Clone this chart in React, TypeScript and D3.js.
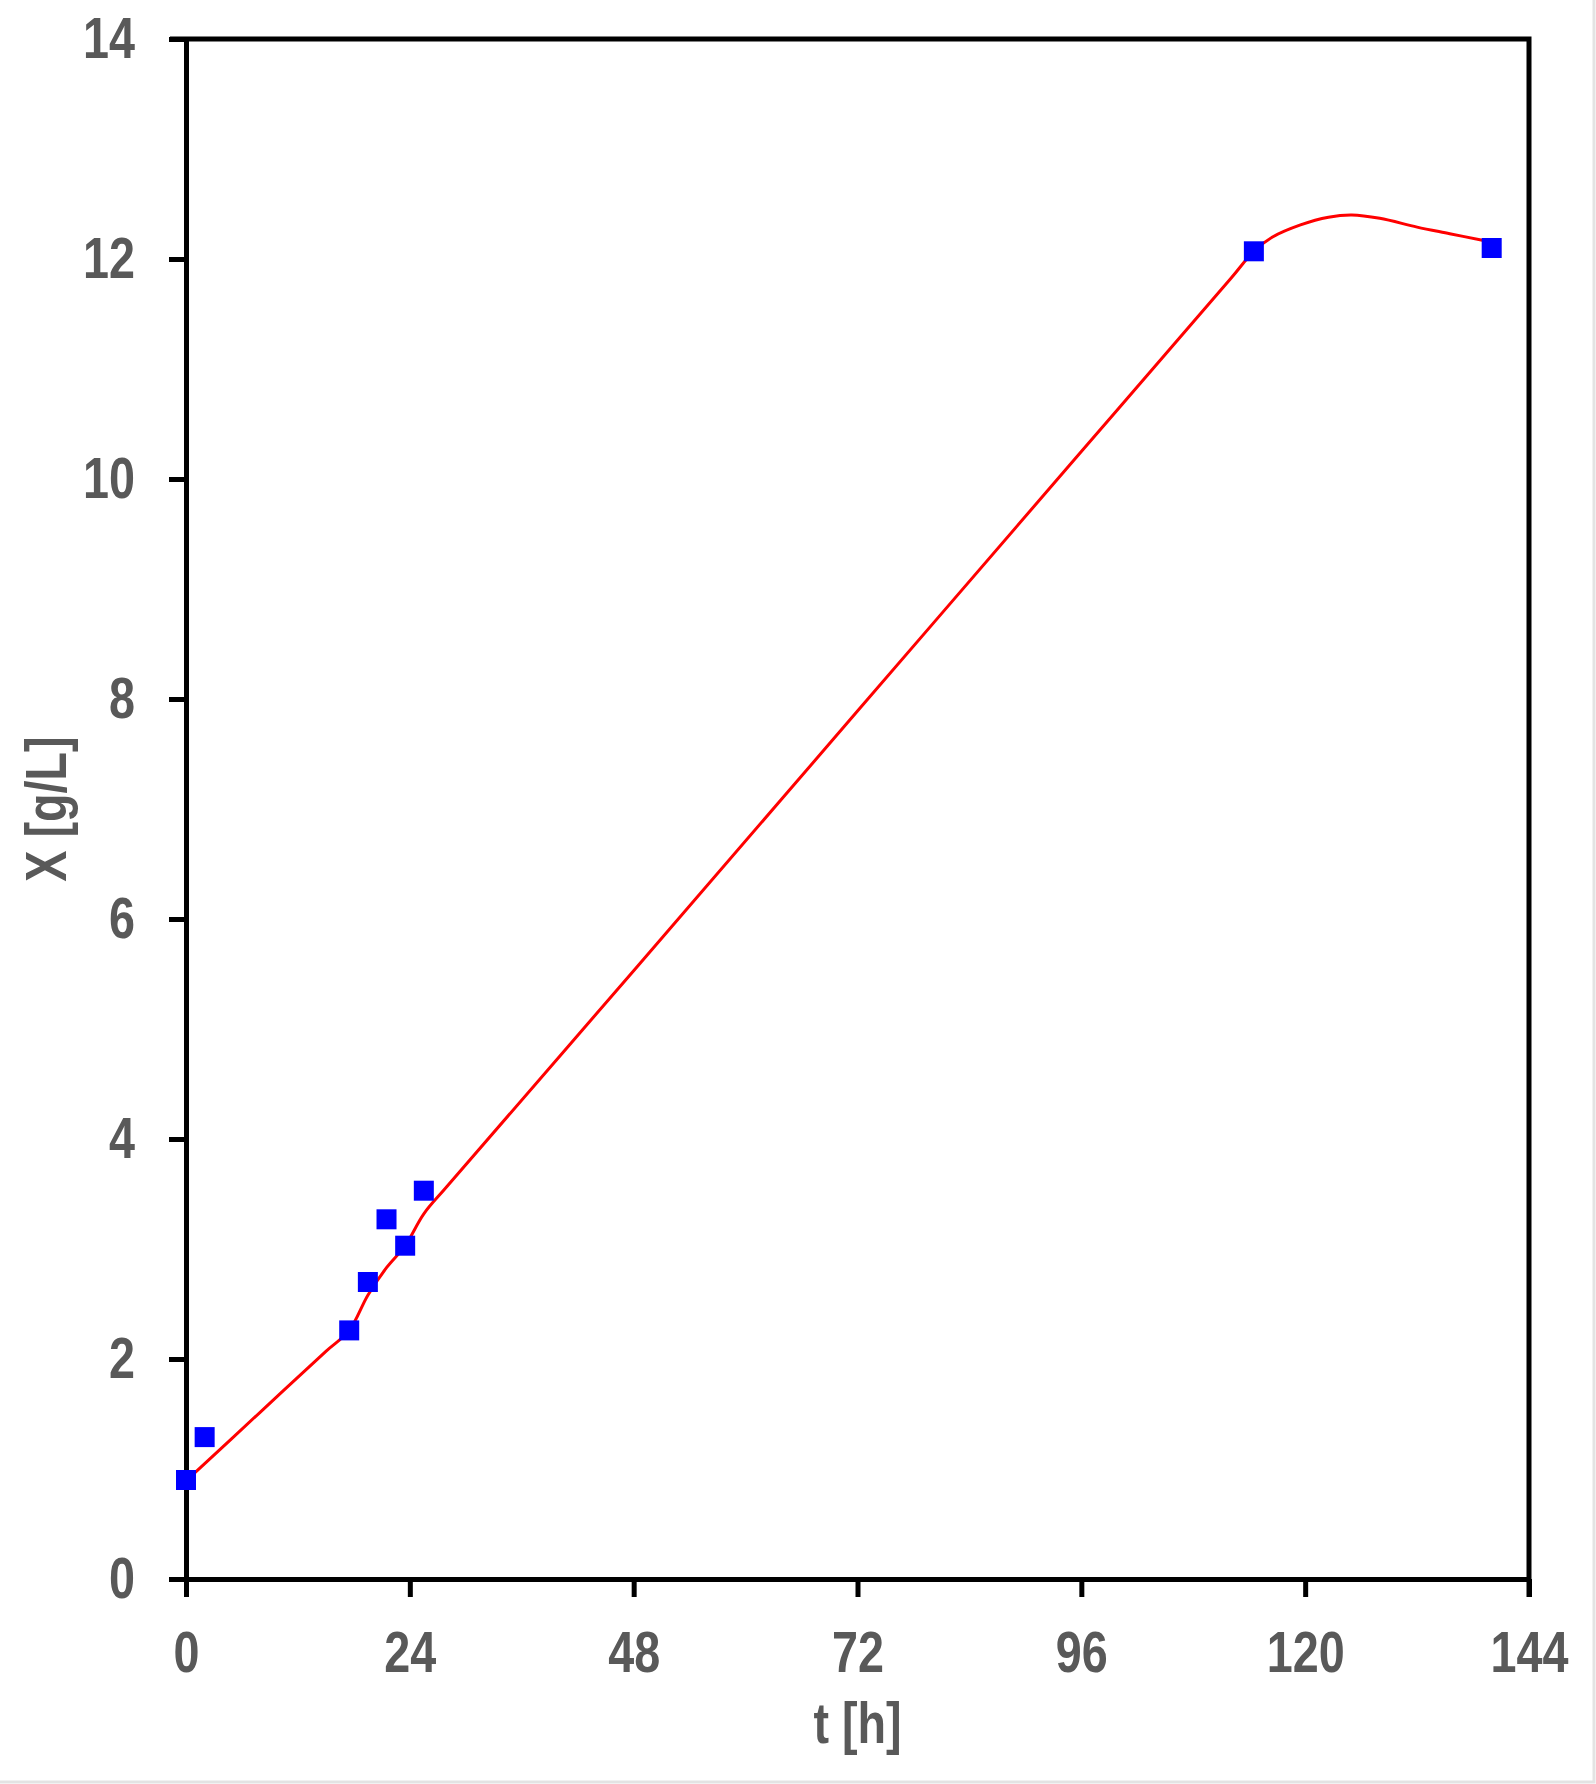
import { useRef, useEffect } from 'react';
import * as d3 from 'd3';

// measured biomass
const sampleTimes = [0, 2, 17.5, 19.5, 21.5, 23.5, 25.5, 114.5, 140];
const sampleX = [0.9, 1.29, 2.26, 2.7, 3.27, 3.03, 3.53, 12.07, 12.1];

// fitted model curve
const modelTimes = [0.5, 8, 15, 17.5, 19.5, 21.5, 23.5, 25.5, 28, 48, 72, 96, 112, 114.5, 116.5, 119.5, 122.5, 125, 128, 132, 135.5, 139];
const modelX = [0.93, 1.52, 2.07, 2.26, 2.58, 2.83, 3.03, 3.32, 3.57, 5.53, 7.89, 10.25, 11.82, 12.07, 12.2, 12.31, 12.38, 12.4, 12.37, 12.29, 12.23, 12.17];

const xTicks = [0, 24, 48, 72, 96, 120, 144];
const yTicks = [0, 2, 4, 6, 8, 10, 12, 14];

export default function App() {
  const svgRef = useRef(null);

  useEffect(() => {
    const width = 1596;
    const height = 1784;
    const margin = { top: 39, right: 67, bottom: 205, left: 186 };
    const font = '"Liberation Sans", Arial, sans-serif';
    const labelColor = '#595959';
    const squeeze = 0.82; // the original font is a narrow bold face

    const svg = d3.select(svgRef.current)
      .attr('width', width)
      .attr('height', height);
    svg.selectAll('*').remove();

    const xScale = d3.scaleLinear()
      .domain([0, 144])
      .range([margin.left, width - margin.right]);

    const yScale = d3.scaleLinear()
      .domain([0, 14])
      .range([height - margin.bottom, margin.top]);

    svg.append('rect')
      .attr('width', width)
      .attr('height', height)
      .attr('fill', '#fff');

    // faint frame on the right and bottom edges
    svg.append('path')
      .attr('d', `M${width - 2},0 V${height - 2} H0`)
      .attr('fill', 'none')
      .attr('stroke', '#e3e3e3')
      .attr('stroke-width', 3);

    // model line
    const line = d3.line()
      .x((d) => xScale(d[0]))
      .y((d) => yScale(d[1]))
      .curve(d3.curveCatmullRom.alpha(0.5));

    svg.append('path')
      .datum(modelTimes.map((t, i) => [t, modelX[i]]))
      .attr('d', line)
      .attr('fill', 'none')
      .attr('stroke', '#ff0000')
      .attr('stroke-width', 3);

    // x axis
    const xAxis = svg.append('g')
      .attr('transform', `translate(0, ${yScale(0)})`)
      .call(d3.axisBottom(xScale).tickValues(xTicks).tickSize(18).tickPadding(32).tickSizeOuter(0));

    // y axis
    const yAxis = svg.append('g')
      .attr('transform', `translate(${xScale(0)}, 0)`)
      .call(d3.axisLeft(yScale).tickValues(yTicks).tickSize(17).tickPadding(34).tickSizeOuter(0));

    [xAxis, yAxis].forEach((g) => {
      g.select('.domain').attr('stroke', '#000').attr('stroke-width', 5);
      g.selectAll('.tick line').attr('stroke', '#000').attr('stroke-width', 5);
      g.selectAll('.tick text')
        .attr('fill', labelColor)
        .style('font-family', font)
        .style('font-weight', 'bold')
        .style('font-size', '57px');
    });
    xAxis.selectAll('.tick text')
      .attr('dy', '0.75em')
      .attr('transform', `scale(${squeeze},1)`);
    yAxis.selectAll('.tick text')
      .attr('x', -51 / squeeze)
      .attr('transform', `scale(${squeeze},1)`);

    // top and right frame
    svg.append('path')
      .attr('d', `M${xScale(0) - 16},${yScale(14)} H${xScale(144)} V${yScale(0) + 18}`)
      .attr('fill', 'none')
      .attr('stroke', '#000')
      .attr('stroke-width', 5);

    // markers
    svg.append('g')
      .selectAll('rect')
      .data(sampleTimes.map((t, i) => [t, sampleX[i]]))
      .enter()
      .append('rect')
      .attr('x', (d) => xScale(d[0]) - 10)
      .attr('y', (d) => yScale(d[1]) - 10)
      .attr('width', 20)
      .attr('height', 20)
      .attr('fill', '#0000ff');

    // axis titles
    svg.append('text')
      .attr('transform', `translate(${(xScale(0) + xScale(144)) / 2}, 1743) scale(${squeeze},1)`)
      .attr('text-anchor', 'middle')
      .attr('fill', labelColor)
      .style('font-family', font)
      .style('font-weight', 'bold')
      .style('font-size', '57px')
      .text('t [h]');

    svg.append('text')
      .attr('transform', `translate(66, ${(yScale(0) + yScale(14)) / 2}) rotate(-90) scale(${squeeze},1)`)
      .attr('text-anchor', 'middle')
      .attr('fill', labelColor)
      .style('font-family', font)
      .style('font-weight', 'bold')
      .style('font-size', '57px')
      .text('X [g/L]');
  }, []);

  return (
    <svg ref={svgRef} style={{ position: 'absolute', left: 0, top: 0 }} />
  );
}
